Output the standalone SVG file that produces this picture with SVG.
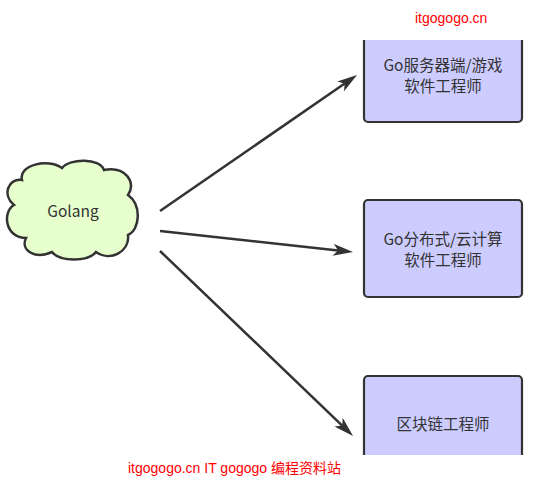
<svg xmlns="http://www.w3.org/2000/svg" width="541" height="484" viewBox="0 0 541 484">
<style>
.box{fill:#ccccff;stroke:#333333;stroke-width:2.2}
.lbl{font-family:"Noto Sans CJK SC","Liberation Sans",sans-serif;font-size:15.5px;fill:#333333;text-anchor:middle}
.edge{stroke:#333333;stroke-width:2.5;fill:none}
.wm{font-family:"Liberation Sans","Noto Sans CJK SC",sans-serif;font-size:14px;fill:#ff0000}
</style>
<defs>
<marker id="arr" markerUnits="userSpaceOnUse" markerWidth="20" markerHeight="12" viewBox="0 0 20 12" refX="5" refY="6" orient="auto">
<path d="M0,0 L20,6 L0,12 L5,6 Z" fill="#333333"/>
</marker>
</defs>
<rect width="541" height="484" fill="#ffffff"/>
<g id="node-golang">
<path d="M22,180 C18,165 48,158 62,168 C70,158 100,158 104,170 C125,166 137,182 128,195 C142,205 140,230 128,235 C130,252 110,262 96,252 C88,262 60,262 52,252 C35,260 20,250 26,238 C5,238 2,212 14,205 C2,195 8,178 22,180 Z" fill="#e6ffcc" stroke="#333333" stroke-width="2.5"/>
<text class="lbl" x="73" y="217" font-size="15">Golang</text>
</g>
<g id="node-server">
<rect class="box" x="364" y="25" width="158" height="97" rx="4"/>
<text class="lbl" x="443" y="71">Go服务器端/游戏</text>
<text class="lbl" x="443" y="92">软件工程师</text>
</g>
<g id="node-cloud">
<rect class="box" x="364" y="200" width="158" height="97" rx="4"/>
<text class="lbl" x="443" y="245">Go分布式/云计算</text>
<text class="lbl" x="443" y="266">软件工程师</text>
</g>
<g id="node-chain">
<rect class="box" x="364" y="376" width="158" height="97" rx="4"/>
<text class="lbl" x="443" y="430">区块链工程师</text>
</g>
<g id="connectors">
<line class="edge" x1="160" y1="211" x2="344.7" y2="83.5" marker-end="url(#arr)"/>
<line class="edge" x1="160" y1="231" x2="338.1" y2="250.4" marker-end="url(#arr)"/>
<line class="edge" x1="160" y1="251" x2="342.2" y2="425.6" marker-end="url(#arr)"/>
</g>
<g id="watermarks">
<rect x="0" y="0" width="541" height="40" fill="#ffffff"/>
<rect x="0" y="455" width="541" height="29" fill="#ffffff"/>
<text class="wm" x="415" y="23">itgogogo.cn</text>
<text class="wm" x="128" y="473">itgogogo.cn IT gogogo 编程资料站</text>
</g>
</svg>
